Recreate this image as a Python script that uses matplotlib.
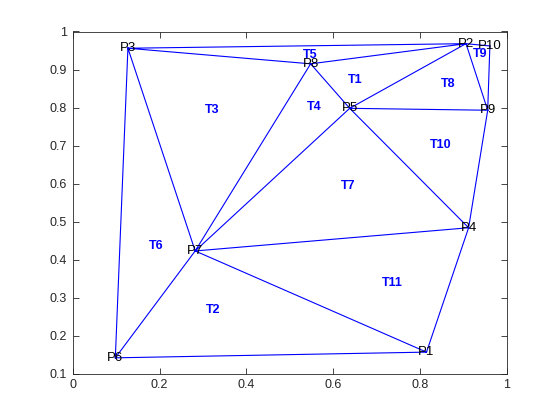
import numpy as np
import matplotlib
matplotlib.use("Agg")
import matplotlib.pyplot as plt
import matplotlib.tri as mtri

# Vertex coordinates P1..P10
px = [0.815, 0.906, 0.127, 0.912, 0.638, 0.098, 0.282, 0.548, 0.956, 0.961]
py = [0.157, 0.968, 0.956, 0.484, 0.798, 0.142, 0.423, 0.915, 0.793, 0.962]
plabels = [f"P{i+1}" for i in range(len(px))]

# Triangles T1..T11 (1-based vertex ids)
tris = [
    [8, 5, 2],
    [6, 7, 1],
    [3, 7, 8],
    [7, 5, 8],
    [3, 8, 2],
    [3, 6, 7],
    [7, 4, 5],
    [5, 9, 2],
    [2, 9, 10],
    [5, 4, 9],
    [7, 1, 4],
]
tlabels = [f"T{i+1}" for i in range(len(tris))]

plt.rcParams['font.family'] = ['Liberation Sans', 'DejaVu Sans']
fig = plt.figure(figsize=(5.6, 4.2), dpi=100)
ax = fig.add_axes([0.13, 0.11, 0.775, 0.815])

x = np.array(px)
y = np.array(py)
T = np.array(tris) - 1
tri = mtri.Triangulation(x, y, T)
ax.triplot(tri, color=(0, 0, 1), lw=0.8)

for xi, yi, lab in zip(x, y, plabels):
    ax.text(xi, yi, lab, ha='center', va='center', fontsize=9.5, color='black')

# incenters
for t, lab in zip(T, tlabels):
    A, B, C = [np.array([x[k], y[k]]) for k in t]
    a = np.linalg.norm(B - C)
    b = np.linalg.norm(A - C)
    c = np.linalg.norm(A - B)
    ic = (a * A + b * B + c * C) / (a + b + c)
    ax.text(ic[0], ic[1], lab, ha='center', va='center', fontsize=9,
            fontweight='bold', color='blue')

ax.set_xlim(0, 1)
ax.set_ylim(0.1, 1)
ax.set_xticks([0, 0.2, 0.4, 0.6, 0.8, 1])
ax.set_xticklabels(['0', '0.2', '0.4', '0.6', '0.8', '1'])
ax.set_yticks([0.1, 0.2, 0.3, 0.4, 0.5, 0.6, 0.7, 0.8, 0.9, 1])
ax.set_yticklabels(['0.1', '0.2', '0.3', '0.4', '0.5', '0.6', '0.7', '0.8', '0.9', '1'])
ax.tick_params(direction='in', top=True, right=True, labelsize=9,
               colors=(0.15, 0.15, 0.15), length=4, width=0.6, pad=4)
for s in ax.spines.values():
    s.set_color((0.15, 0.15, 0.15))
    s.set_linewidth(0.6)

fig.savefig("out.png", dpi=100)
